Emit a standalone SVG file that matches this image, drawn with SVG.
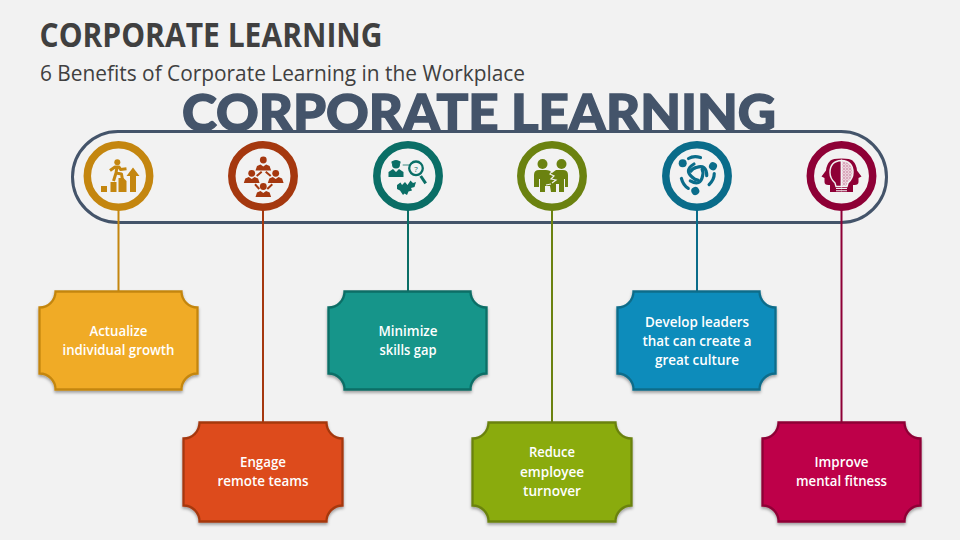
<svg xmlns="http://www.w3.org/2000/svg" width="960" height="540" viewBox="0 0 960 540">
<style>
.title{font-family:"Open Sans","Liberation Sans",sans-serif;font-weight:700;font-size:34px;fill:#404040}
.sub{font-family:"Open Sans","Liberation Sans",sans-serif;font-size:21.5px;fill:#404040}
.big{font-family:Lato,"Open Sans",sans-serif;font-weight:900;font-size:51px;fill:#44546A;stroke:#44546A;stroke-width:1.4}
.lbl{font-family:"Open Sans","Liberation Sans",sans-serif;font-weight:600;font-size:14.5px;fill:#fff;text-anchor:middle}
.ring{fill:#f2f2f2;stroke-width:7.5}
.plaque{stroke-width:2.3;filter:url(#sh)}
.c1{stroke:#C4860F}.c2{stroke:#A5380F}.c3{stroke:#0A6E66}.c4{stroke:#6B8210}.c5{stroke:#0A6C8A}.c6{stroke:#8E0036}
.f1{fill:#C4860F}.f2{fill:#A5380F}.f3{fill:#0A6E66}.f4{fill:#6B8210}.f5{fill:#0A6C8A}.f6{fill:#8E0036}
#connectors line{stroke-width:2}
</style>
<defs>
<filter id="sh" x="-10%" y="-10%" width="120%" height="125%"><feDropShadow dx="0" dy="2" stdDeviation="1.600" flood-color="#000" flood-opacity=".35"/></filter>
<pattern id="speck" width="3" height="3" patternUnits="userSpaceOnUse"><rect width="3" height="3" fill="#ecd2dc"/><circle cx="1" cy="1" r=".7" fill="#b85a80"/><circle cx="2.400" cy="2.300" r=".4" fill="#c87a98"/></pattern>
</defs>
<rect width="960" height="540" fill="#f2f2f2"/>
<text class="title" x="39.500" y="46.500" textLength="343" lengthAdjust="spacingAndGlyphs">CORPORATE LEARNING</text>
<text class="sub" x="40" y="81" textLength="485" lengthAdjust="spacingAndGlyphs">6 Benefits of Corporate Learning in the Workplace</text>
<text class="big" x="182" y="131" textLength="594" lengthAdjust="spacingAndGlyphs">CORPORATE LEARNING</text>
<rect id="band" x="72.500" y="131.500" width="814" height="91" rx="45.500" fill="none" stroke="#44546A" stroke-width="3"/>
<g id="connectors">
<line class="c1" x1="118.500" y1="208" x2="118.500" y2="291"/>
<line class="c2" x1="263" y1="208" x2="263" y2="422"/>
<line class="c3" x1="408" y1="208" x2="408" y2="291"/>
<line class="c4" x1="552" y1="208" x2="552" y2="422"/>
<line class="c5" x1="697" y1="208" x2="697" y2="291"/>
<line class="c6" x1="841.500" y1="208" x2="841.500" y2="422"/>
</g>
<g id="node1">
<circle class="ring c1" cx="118.500" cy="176" r="31.200"/>
<g class="f1">
<rect x="101" y="186" width="6" height="6"/>
<rect x="110.500" y="182" width="6" height="10"/>
<path d="M118.500 192V178h5l3 3v11z"/>
<path d="M133 167.500l6.500 8.500h-3.500v16h-6v-16h-3.500z"/>
<circle cx="117.300" cy="162.300" r="3"/>
</g>
<path d="M110 170.500l5-3.500h4l1.500 2.500 6-.8M117 167l-1 6-2.500 8M116 173l5.500 1 1 6" fill="none" stroke="#C4860F" stroke-width="3" stroke-linejoin="round"/>
</g>
<g id="node2">
<circle class="ring c2" cx="263" cy="176" r="31.200"/>
<g class="f2">
<circle cx="263.300" cy="160" r="3.400"/><path d="M255.500 170.500l1.500-4.500 3.500-1.500 2.800 2 2.800-2 3.500 1.500 1.500 4.500z"/>
<circle cx="251.700" cy="173.300" r="3.400"/><path d="M243.800 183l1.500-4.500 3.500-1.500 2.900 2 2.900-2 3.500 1.500 1.500 4.500z"/>
<circle cx="275.700" cy="173.300" r="3.400"/><path d="M267.800 183l1.500-4.500 3.500-1.500 2.900 2 2.900-2 3.500 1.500 1.500 4.500z"/>
<circle cx="263.300" cy="186.500" r="3.400"/><path d="M255.500 197l1.500-4.500 3.500-1.500 2.800 2 2.800-2 3.500 1.500 1.500 4.500z"/>
</g>
<path d="M256.700 176l5-4.300M265.700 171.700l5 4.300M255 184.300l4.300 4.700M272.300 184.300l-5 4.700" fill="none" stroke="#A5380F" stroke-width="2"/>
</g>
<g id="node3">
<circle class="ring c3" cx="408" cy="176" r="31.200"/>
<g class="f3">
<circle cx="396" cy="164.500" r="4"/><path d="M391.500 161.500q4.500-3 9 0v2h-9z"/>
<path d="M388.500 177v-5l4.500-3 3 3 3-3 4.500 3v5z"/>
<path d="M397 185l3.500-2.500 1.500 2.500 3-3 2.500 3 3-4.500 2.500 2.500 3-1-1.500 5-3.500 1 1 2.500-3.500 1-1.500 3.500-2.500-1.500-1.500 1.500-3-4.500-3-1.500z"/>
</g>
<circle cx="416" cy="168.300" r="6.800" fill="none" stroke="#0A6E66" stroke-width="2.300"/>
<path d="M420.700 176l5 7.300" stroke="#0A6E66" stroke-width="3" fill="none"/>
<path d="M402.700 165h7" stroke="#0A6E66" stroke-width=".8" fill="none"/>
<text x="416" y="171.500" font-family="'Open Sans',sans-serif" font-size="8" text-anchor="middle" fill="#0A6E66">?</text>
</g>
<g id="node4">
<circle class="ring c4" cx="552" cy="176" r="31.200"/>
<g class="f4">
<circle cx="542.500" cy="164" r="5"/><circle cx="561.500" cy="164" r="5"/>
<path d="M534 187v-12q0-5 5-5h7q4 0 6 3l4-3h7q5 0 5 5v12h-3v-8h-1v13h-5v-8h-3v8h-5l-1-6h-5v6h-5v-13h-1v8z"/>
</g>
<path d="M553 170l-3 4 4 2-3 3 5 1-4 3M546 185l5-1" fill="none" stroke="#f2f2f2" stroke-width="1.200"/>
</g>
<g id="node5">
<circle class="ring c5" cx="697" cy="176" r="31.200"/>
<g id="arm" fill="none" stroke="#0A6C8A" stroke-width="3.200" stroke-linecap="round">
<circle cx="682.700" cy="163.300" r="4" fill="#0A6C8A" stroke="none"/>
<path d="M688.500 158.500q5-3 12-1M694 164q-10 6-2 13 3 3 6 3"/>
</g>
<use href="#arm" transform="rotate(120 697 173.500)"/>
<use href="#arm" transform="rotate(240 697 173.500)"/>
</g>
<g id="node6">
<circle class="ring c6" cx="841.500" cy="176" r="31.200"/>
<path class="f6" d="M841.500 158.500q-9 0-11 2-4 4-4.500 10l-4.500 6 3 1.500v4q0 3 4 3h1.500v7h11.500z"/>
<path class="f6" d="M841.500 158.500q9 0 11 2 4 4 4.500 10l4.500 6-3 1.500v4q0 3-4 3h-1.500v7h-11.500z"/>
<path d="M841.500 160.500q-11.500.5-11.500 12 0 6 5 10.500l1 3.500h5.500z" fill="#8E0036" stroke="#f2f2f2" stroke-width="1.400"/>
<path d="M841.500 160.500q11.500.5 11.500 12 0 6-5 10.500l-1 3.500h-5.500z" fill="url(#speck)" stroke="#f2f2f2" stroke-width="1.400"/>
<path d="M836 188.500h11M836 190.700h11M838 193h7" stroke="#f2f2f2" stroke-width="1.100" fill="none"/>
</g>
<g id="box1"><path class="plaque c1" fill="#F0AB27" d="M55.500 291.500H181.500A16 16 0 0 0 197.500 307.500V373.500A16 16 0 0 0 181.500 389.500H55.500A16 16 0 0 0 39.500 373.500V307.500A16 16 0 0 0 55.500 291.500Z"/>
<text class="lbl" x="118.500" y="336" textLength="58" lengthAdjust="spacingAndGlyphs">Actualize</text><text class="lbl" x="118.500" y="355" textLength="112" lengthAdjust="spacingAndGlyphs">individual growth</text></g>
<g id="box2"><path class="plaque c2" fill="#DD4B1A" d="M199.500 422.500H326.500A16 16 0 0 0 342.500 438.500V505.500A16 16 0 0 0 326.500 521.500H199.500A16 16 0 0 0 183.500 505.500V438.500A16 16 0 0 0 199.500 422.500Z"/>
<text class="lbl" x="263" y="467" textLength="46" lengthAdjust="spacingAndGlyphs">Engage</text><text class="lbl" x="263" y="486" textLength="91" lengthAdjust="spacingAndGlyphs">remote teams</text></g>
<g id="box3"><path class="plaque c3" fill="#12958A" d="M344.500 291.500H470.500A16 16 0 0 0 486.500 307.500V373.500A16 16 0 0 0 470.500 389.500H344.500A16 16 0 0 0 328.500 373.500V307.500A16 16 0 0 0 344.500 291.500Z"/>
<text class="lbl" x="408" y="336" textLength="59" lengthAdjust="spacingAndGlyphs">Minimize</text><text class="lbl" x="408" y="355" textLength="57" lengthAdjust="spacingAndGlyphs">skills gap</text></g>
<g id="box4"><path class="plaque c4" fill="#8AAB0F" d="M488.500 422.500H615.500A16 16 0 0 0 631.500 438.500V505.500A16 16 0 0 0 615.500 521.500H488.500A16 16 0 0 0 472.500 505.500V438.500A16 16 0 0 0 488.500 422.500Z"/>
<text class="lbl" x="552" y="457" textLength="46" lengthAdjust="spacingAndGlyphs">Reduce</text><text class="lbl" x="552" y="477" textLength="64" lengthAdjust="spacingAndGlyphs">employee</text><text class="lbl" x="552" y="496" textLength="58" lengthAdjust="spacingAndGlyphs">turnover</text></g>
<g id="box5"><path class="plaque c5" fill="#0E8CBB" d="M633.500 291.500H759.500A16 16 0 0 0 775.500 307.500V373.500A16 16 0 0 0 759.500 389.500H633.500A16 16 0 0 0 617.500 373.500V307.500A16 16 0 0 0 633.500 291.500Z"/>
<text class="lbl" x="697" y="327" textLength="104" lengthAdjust="spacingAndGlyphs">Develop leaders</text><text class="lbl" x="697" y="346" textLength="109" lengthAdjust="spacingAndGlyphs">that can create a</text><text class="lbl" x="697" y="365" textLength="84" lengthAdjust="spacingAndGlyphs">great culture</text></g>
<g id="box6"><path class="plaque c6" fill="#BE0049" d="M778.500 422.500H904.500A16 16 0 0 0 920.500 438.500V505.500A16 16 0 0 0 904.500 521.500H778.500A16 16 0 0 0 762.500 505.500V438.500A16 16 0 0 0 778.500 422.500Z"/>
<text class="lbl" x="841.500" y="467" textLength="54" lengthAdjust="spacingAndGlyphs">Improve</text><text class="lbl" x="841.500" y="486" textLength="91" lengthAdjust="spacingAndGlyphs">mental fitness</text></g>
</svg>
